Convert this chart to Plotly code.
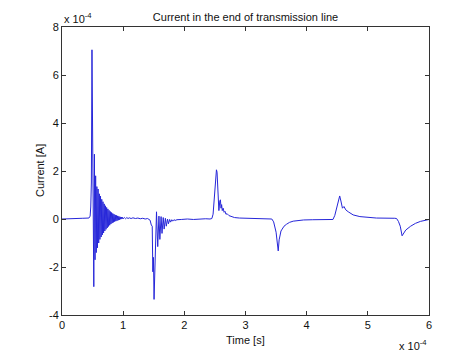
import plotly.graph_objects as go

# Time in units of 1e-4 s, current in units of 1e-4 A (MATLAB-style exponent labels)
t_e4 = [
    0.0, 0.33, 0.34, 0.44, 0.45, 0.46, 0.47, 0.48, 0.49,
    0.52, 0.53, 0.54, 0.55, 0.56, 0.57, 0.58, 0.59, 0.60, 0.61,
    0.62, 0.63, 0.64, 0.65, 0.66, 0.67, 0.68, 0.69, 0.70, 0.71,
    0.72, 0.73, 0.74, 0.75, 0.76, 0.77, 0.78, 0.79, 0.80, 0.81,
    0.82, 0.83, 0.84, 0.85, 0.86, 0.87, 0.88, 0.89, 0.90, 0.91,
    0.92, 0.93, 0.94, 0.95, 0.96, 0.97, 0.98, 0.99, 1.00, 1.02,
    1.04, 1.06, 1.08, 1.10, 1.13, 1.16, 1.20, 1.24, 1.28, 1.32,
    1.36, 1.40, 1.42,
    1.44, 1.46, 1.475, 1.485, 1.495, 1.505, 1.545, 1.565, 1.585, 1.60,
    1.62, 1.635, 1.655, 1.67, 1.69, 1.705, 1.725, 1.74, 1.76, 1.775,
    1.795, 1.81, 1.83, 1.85, 1.88, 1.95, 2.05, 2.15, 2.25, 2.35, 2.42,
    2.45, 2.47, 2.49, 2.51, 2.525, 2.535, 2.55, 2.565, 2.58, 2.59, 2.60,
    2.61, 2.62, 2.635, 2.65, 2.665, 2.68, 2.70, 2.73, 2.77, 2.82, 2.9,
    3.0, 3.1, 3.2, 3.35, 3.43,
    3.46, 3.48, 3.50, 3.52, 3.535, 3.55, 3.56, 3.57, 3.58, 3.60, 3.63,
    3.67, 3.72, 3.78, 3.85, 3.95, 4.1, 4.3, 4.43,
    4.46, 4.49, 4.52, 4.54, 4.56, 4.585, 4.61, 4.64, 4.68, 4.76, 4.87,
    4.98, 5.14, 5.44, 5.47,
    5.50, 5.53, 5.56, 5.59, 5.62, 5.70, 5.78, 5.86, 5.94, 6.0,
]
i_e4 = [
    0.0, 0.0, 0.03, 0.04, 0.1, 0.12, 0.5, 1.5, 7.05,
    -2.82, 2.7, -1.7, 1.8, -1.4, 1.35, -1.2, 1.25, -1.0, 1.05,
    -0.85, 0.95, -0.75, 0.82, -0.66, 0.72, -0.58, 0.63, -0.5, 0.55,
    -0.43, 0.48, -0.37, 0.42, -0.31, 0.36, -0.26, 0.31, -0.21, 0.27,
    -0.17, 0.23, -0.14, 0.2, -0.11, 0.17, -0.09, 0.15, -0.07, 0.13,
    -0.05, 0.11, -0.03, 0.09, -0.01, 0.08, 0.0, 0.07, 0.01, 0.06,
    0.01, 0.06, 0.02, 0.05, 0.02, 0.05, 0.02, 0.04, 0.01, 0.03,
    0.0, 0.02, 0.0,
    -0.05, -0.25, -0.3, -2.2, -1.6, -3.35, 0.3, -1.15, 0.12, -0.85,
    0.1, -0.6, 0.06, -0.42, 0.03, -0.3, 0.0, -0.2, -0.02, -0.13,
    -0.03, -0.09, -0.03, -0.06, -0.03, -0.02, 0.0, -0.02, 0.0, 0.01, 0.0,
    0.02, 0.2, 0.9, 1.8, 2.05, 1.95, 1.0, 0.35, 0.75, 0.8, 0.45,
    0.6, 0.35, 0.45, 0.28, 0.32, 0.2, 0.22, 0.14, 0.1, 0.06, 0.04,
    0.03, 0.02, 0.02, 0.01, 0.0,
    -0.12, -0.3, -0.55, -1.0, -1.33, -0.87, -0.67, -0.55, -0.5, -0.42, -0.3,
    -0.22, -0.14, -0.09, -0.06, -0.04, -0.03, -0.03, -0.02,
    0.15, 0.45, 0.8, 0.96, 0.75, 0.45, 0.52, 0.38, 0.3, 0.17, 0.1,
    0.07, 0.04, 0.03, 0.02,
    -0.1, -0.3, -0.7, -0.6, -0.46, -0.3, -0.18, -0.1, -0.04, -0.02,
]

x_ticks = [0, 1, 2, 3, 4, 5, 6]
y_ticks = [-4, -2, 0, 2, 4, 6, 8]

FONT = "Liberation Sans, Arial, sans-serif"
AX = "#333333"
TXT = "#111111"

W, H = 466, 347  # page body has an 8px margin

fig = go.Figure()
fig.add_trace(go.Scatter(x=t_e4, y=i_e4, mode="lines",
                         line=dict(color="#2626d9", width=1), showlegend=False))

axis_common = dict(showgrid=False, zeroline=False, showline=True, linecolor=AX,
                   linewidth=1, mirror="ticks", ticks="inside", ticklen=4,
                   tickcolor=AX, tickfont=dict(family=FONT, size=11, color=TXT))
fig.update_xaxes(range=[0, 6], tickvals=x_ticks, ticktext=[str(v) for v in x_ticks],
                 **axis_common)
fig.update_yaxes(range=[-4, 8], tickvals=y_ticks, ticktext=[str(v) for v in y_ticks],
                 **axis_common)

fig.update_layout(
    width=W, height=H,
    margin=dict(l=54, r=45, t=19, b=40),
    plot_bgcolor="white", paper_bgcolor="white",
    font=dict(family=FONT, size=11, color=TXT),
    title=dict(text="Current in the end of transmission line", x=(237.5 / W), xanchor="center",
               y=1 - 9 / H, yanchor="middle", font=dict(family=FONT, size=11, color=TXT)),
    annotations=[
        dict(text="x 10<sup>-4</sup>", xref="paper", yref="paper", x=0.0, y=1.0,
             xanchor="left", yanchor="bottom", showarrow=False, yshift=0,
             font=dict(family=FONT, size=11, color=TXT)),
        dict(text="x 10<sup>-4</sup>", xref="paper", yref="paper", x=1.0, y=0.0,
             xanchor="right", yanchor="middle", showarrow=False, yshift=-30,
             font=dict(family=FONT, size=11, color=TXT)),
        dict(text="Time [s]", xref="paper", yref="paper", x=0.5, y=0.0,
             xanchor="center", yanchor="middle", showarrow=False, yshift=-25,
             font=dict(family=FONT, size=11, color=TXT)),
        dict(text="Current [A]", xref="paper", yref="paper", x=0.0, y=0.5,
             xanchor="center", yanchor="middle", showarrow=False, xshift=-22,
             textangle=-90, font=dict(family=FONT, size=11, color=TXT)),
    ],
)

fig.write_html("out.html")
